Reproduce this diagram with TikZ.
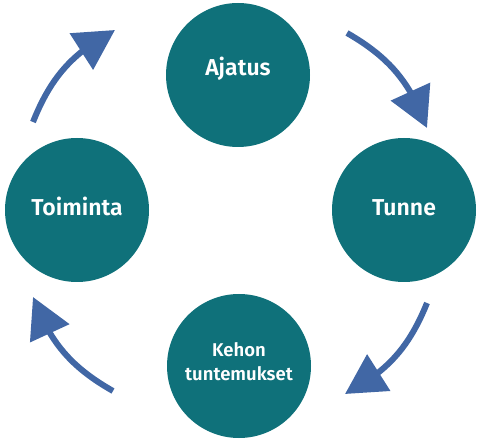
\documentclass[tikz,border=0pt]{standalone}
\usepackage{fontspec}
\setmainfont{Fira Sans}[BoldFont={Fira Sans SemiBold}]
\usepackage{tikz}
\usetikzlibrary{arrows.meta,bending}
\pgfdeclarelayer{edgelayer}
\pgfdeclarelayer{nodelayer}
\pgfsetlayers{edgelayer,nodelayer,main}
\definecolor{tealfill}{RGB}{15,113,122}
\definecolor{arrowblue}{RGB}{65,103,165}
\tikzstyle{none}=[inner sep=0pt]
\tikzstyle{stage}=[circle,fill=tealfill,draw=none,minimum size=144pt,inner sep=0pt,text=white,text height=17pt,text depth=6pt,font=\bfseries\fontsize{23}{27}\selectfont]
\tikzstyle{smallstage}=[stage,align=center,text height=,text depth=9pt,font=\bfseries\fontsize{18.5}{24}\selectfont]
\tikzstyle{cyclearrow}=[-{Triangle[length=40pt,width=42pt]},draw=arrowblue,line width=6pt]

\begin{document}
\begin{tikzpicture}[x=1pt,y=-1pt]
	\useasboundingbox (0,0) rectangle (480,441);
	\begin{pgfonlayer}{nodelayer}
		\node [style=stage, text depth=15pt] (Ajatus) at (238, 75) {Ajatus};
		\node [style=stage] (Tunne) at (404, 210) {Tunne};
		\node [style=smallstage] (Kehon) at (239, 366) {Kehon\\tuntemukset};
		\node [style=stage] (Toiminta) at (77, 210) {Toiminta};
		\node [style=none] (tAT) at (33, 122) {};
		\node [style=none] (hAT) at (115, 30) {};
		\node [style=none] (tTT) at (347, 33) {};
		\node [style=none] (hTT) at (427, 128) {};
		\node [style=none] (tTK) at (427, 303) {};
		\node [style=none] (hTK) at (345, 394) {};
		\node [style=none] (tKT) at (113, 391) {};
		\node [style=none] (hKT) at (33, 297) {};
	\end{pgfonlayer}
	\begin{pgfonlayer}{edgelayer}
		\draw [style=cyclearrow, bend left=20] (tAT.center) to (hAT.center);
		\draw [style=cyclearrow, bend left=20] (tTT.center) to (hTT.center);
		\draw [style=cyclearrow, bend left=20] (tTK.center) to (hTK.center);
		\draw [style=cyclearrow, bend left=20] (tKT.center) to (hKT.center);
	\end{pgfonlayer}
\end{tikzpicture}
\end{document}
